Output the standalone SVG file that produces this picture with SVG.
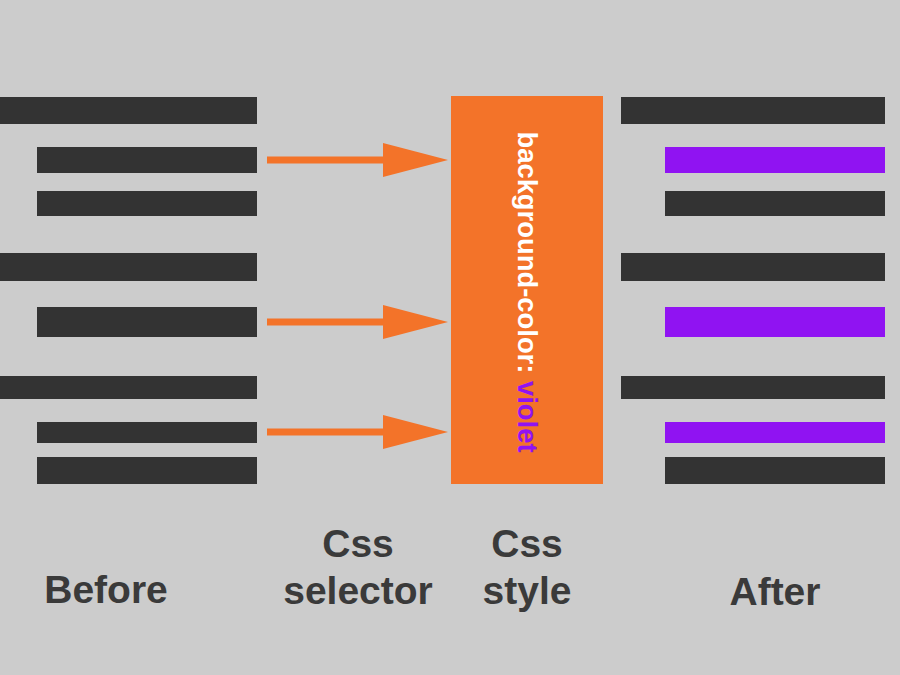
<svg xmlns="http://www.w3.org/2000/svg" width="900" height="675" viewBox="0 0 900 675">
<defs>
<style>
.bar{fill:#333333}
.vio{fill:#9013F2}
.lbl{font-family:"Liberation Sans",Arial,sans-serif;font-weight:bold;font-size:39px;fill:#3a3a3a;text-anchor:middle}
.arr-line{stroke:#F37329;stroke-width:7;fill:none}
.arr-head{fill:#F37329}
</style>
</defs>
<rect x="0" y="0" width="900" height="675" fill="#CCCCCC"/>
<g id="before">
<rect class="bar" x="0" y="97" width="257" height="27"/>
<rect class="bar" x="37" y="147" width="220" height="26"/>
<rect class="bar" x="37" y="191" width="220" height="25"/>
<rect class="bar" x="0" y="253" width="257" height="28"/>
<rect class="bar" x="37" y="307" width="220" height="30"/>
<rect class="bar" x="0" y="376" width="257" height="23"/>
<rect class="bar" x="37" y="422" width="220" height="21"/>
<rect class="bar" x="37" y="457" width="220" height="27"/>
</g>
<g id="after">
<rect class="bar" x="621" y="97" width="264" height="27"/>
<rect class="vio" x="665" y="147" width="220" height="26"/>
<rect class="bar" x="665" y="191" width="220" height="25"/>
<rect class="bar" x="621" y="253" width="264" height="28"/>
<rect class="vio" x="665" y="307" width="220" height="30"/>
<rect class="bar" x="621" y="376" width="264" height="23"/>
<rect class="vio" x="665" y="422" width="220" height="21"/>
<rect class="bar" x="665" y="457" width="220" height="27"/>
</g>
<g id="style-box">
<rect x="451" y="96" width="152" height="388" fill="#F37329"/>
<text transform="translate(518,292) rotate(90)" font-family="'Liberation Sans',Arial,sans-serif" font-weight="bold" font-size="27.4" text-anchor="middle"><tspan fill="#FFFFFF">background-color: </tspan><tspan fill="#9013F2">violet</tspan></text>
</g>
<g id="connectors">
<line class="arr-line" x1="267" y1="160" x2="386" y2="160"/>
<polygon class="arr-head" points="383,143 448,160 383,177"/>
<line class="arr-line" x1="267" y1="322" x2="386" y2="322"/>
<polygon class="arr-head" points="383,305 448,322 383,339"/>
<line class="arr-line" x1="267" y1="432" x2="386" y2="432"/>
<polygon class="arr-head" points="383,415 448,432 383,449"/>
</g>
<g id="labels">
<text class="lbl" x="106" y="603">Before</text>
<text class="lbl" x="358" y="557">Css</text>
<text class="lbl" x="358" y="604">selector</text>
<text class="lbl" x="527" y="557">Css</text>
<text class="lbl" x="527" y="604">style</text>
<text class="lbl" x="775" y="605">After</text>
</g>
</svg>
